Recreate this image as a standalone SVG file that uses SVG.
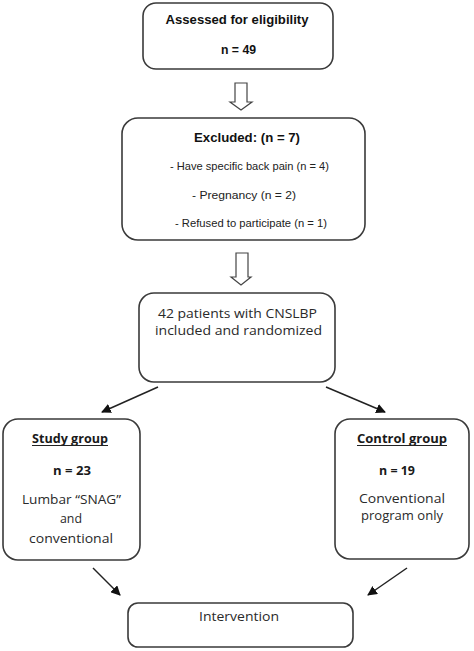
<svg xmlns="http://www.w3.org/2000/svg" width="474" height="651" viewBox="0 0 474 651">
<style>
.box{fill:#fff;stroke:#3a3a3a;stroke-width:1.6}
.a{font-family:"Liberation Sans",Arial,sans-serif;fill:#222;text-anchor:middle}
.ab{font-family:"Liberation Sans",Arial,sans-serif;fill:#111;font-weight:bold;text-anchor:middle}
.c{font-family:"Open Sans","Noto Sans",sans-serif;fill:#2a2a2a;text-anchor:middle;font-size:13px}
.cb{font-family:"Open Sans","Noto Sans",sans-serif;fill:#1a1a1a;font-weight:bold;text-anchor:middle;font-size:13px}
.ln{stroke:#222;stroke-width:1.5;fill:none}
.ha{fill:#fff;stroke:#444;stroke-width:1.2}
</style>
<defs>
<marker id="ah" viewBox="0 0 10 10" refX="9" refY="5" markerWidth="6.5" markerHeight="6.5" markerUnits="strokeWidth" orient="auto">
<path d="M0,0 L10,5 L0,10 z" fill="#111"/>
</marker>
</defs>

<g id="connectors">
<path class="ha" d="M235,83 H247 V102 H252 L241,110 L230,102 H235 Z"/>
<path class="ha" d="M236,253 H248 V277 H251 L241,285 L231,277 H236 Z"/>
<line class="ln" x1="158" y1="387" x2="102" y2="412" marker-end="url(#ah)"/>
<line class="ln" x1="326" y1="387" x2="385" y2="412" marker-end="url(#ah)"/>
<line class="ln" x1="93" y1="568" x2="120" y2="595" marker-end="url(#ah)"/>
<line class="ln" x1="407" y1="568" x2="368" y2="595" marker-end="url(#ah)"/>
</g>

<g id="assessed">
<rect class="box" x="143" y="3" width="190" height="66" rx="13"/>
<text class="ab" x="237" y="24" font-size="13" textLength="143" lengthAdjust="spacingAndGlyphs">Assessed for eligibility</text>
<text class="ab" x="238.5" y="54" font-size="13" textLength="35" lengthAdjust="spacingAndGlyphs">n = 49</text>
</g>

<g id="excluded">
<rect class="box" x="122" y="118" width="243" height="122" rx="16"/>
<text class="ab" x="247" y="142" font-size="13.5" textLength="106" lengthAdjust="spacingAndGlyphs">Excluded: (n = 7)</text>
<text class="a" x="249.5" y="170" font-size="11.5" textLength="159" lengthAdjust="spacingAndGlyphs">- Have specific back pain (n = 4)</text>
<text class="a" x="244" y="199" font-size="11.5" textLength="104" lengthAdjust="spacingAndGlyphs">- Pregnancy (n = 2)</text>
<text class="a" x="251" y="227" font-size="11.5" textLength="152" lengthAdjust="spacingAndGlyphs">- Refused to participate (n = 1)</text>
</g>

<g id="randomized">
<rect class="box" x="139" y="293" width="196" height="89" rx="15"/>
<text class="c" x="237.5" y="318" textLength="159" lengthAdjust="spacingAndGlyphs">42 patients with CNSLBP</text>
<text class="c" x="238.5" y="335" textLength="167" lengthAdjust="spacingAndGlyphs">included and randomized</text>
</g>

<g id="study">
<rect class="box" x="3" y="419" width="137" height="141" rx="15"/>
<text class="cb" x="70" y="443" textLength="76" lengthAdjust="spacingAndGlyphs">Study group</text>
<line x1="32" y1="445.5" x2="108" y2="445.5" stroke="#222" stroke-width="1"/>
<text class="cb" x="72" y="475" textLength="38" lengthAdjust="spacingAndGlyphs">n = 23</text>
<text class="c" x="71.5" y="504" textLength="99" lengthAdjust="spacingAndGlyphs">Lumbar “SNAG”</text>
<text class="c" x="71" y="523" textLength="22" lengthAdjust="spacingAndGlyphs">and</text>
<text class="c" x="71" y="543" textLength="84" lengthAdjust="spacingAndGlyphs">conventional</text>
</g>

<g id="control">
<rect class="box" x="335" y="419" width="134" height="140" rx="15"/>
<text class="cb" x="402" y="443" textLength="90" lengthAdjust="spacingAndGlyphs">Control group</text>
<line x1="357" y1="445.5" x2="447" y2="445.5" stroke="#222" stroke-width="1"/>
<text class="cb" x="397" y="475" textLength="36" lengthAdjust="spacingAndGlyphs">n = 19</text>
<text class="c" x="402" y="503" textLength="86" lengthAdjust="spacingAndGlyphs">Conventional</text>
<text class="c" x="402" y="520" textLength="82" lengthAdjust="spacingAndGlyphs">program only</text>
</g>

<g id="intervention">
<rect class="box" x="128" y="603" width="225" height="44" rx="10"/>
<text class="c" x="239" y="621" textLength="80" lengthAdjust="spacingAndGlyphs">Intervention</text>
</g>
</svg>
